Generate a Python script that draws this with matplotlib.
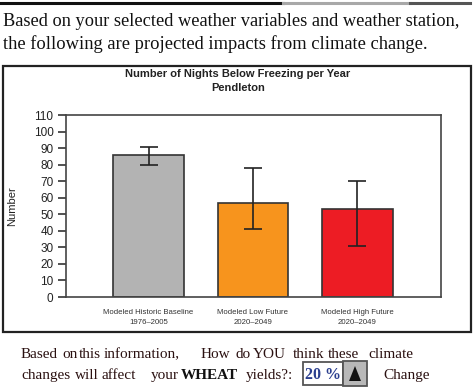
import matplotlib
matplotlib.use("Agg")
import matplotlib.pyplot as plt
from matplotlib.patches import Rectangle, Polygon
from matplotlib.lines import Line2D

categories = ["Modeled Historic Baseline\n1976\u20132005",
              "Modeled Low Future\n2020\u20132049",
              "Modeled High Future\n2020\u20132049"]
values = [86, 57, 53]
err_low = [80, 41, 31]
err_high = [90.5, 78, 70]
colors = ["#b3b3b3", "#f7941d", "#ed1c24"]
yticks = list(range(0, 111, 10))

line1_words = ["Based", "on", "this", "information,", "How", "do", "YOU", "think", "these", "climate"]
line1_x = [21, 62, 79, 104, 201, 235, 253, 293, 328, 368]
line2_words = ["changes", "will", "affect", "your", "WHEAT", "yields?:"]
line2_x = [21, 75, 102, 151, 181, 246]

W, H = 474, 387
fig = plt.figure(figsize=(W / 100, H / 100), dpi=100)

def fx(px):
    return px / W

def fy(py):
    return 1 - py / H

# top rule
fig.add_artist(Line2D([fx(0), fx(283)], [fy(2.5), fy(2.5)], color="#111111", lw=2.2))
fig.add_artist(Line2D([fx(283), fx(410)], [fy(2.5), fy(2.5)], color="#a8a8a8", lw=2.2))
fig.add_artist(Line2D([fx(410), fx(470)], [fy(2.5), fy(2.5)], color="#555555", lw=2.2))

serif = ["Liberation Serif", "DejaVu Serif"]
fig.text(fx(3), fy(22), "Based on your selected weather variables and weather station,",
         fontsize=13.2, family=serif, ha="left", va="center", color="#111111")
fig.text(fx(3), fy(44), "the following are projected impacts from climate change.",
         fontsize=13.3, family=serif, ha="left", va="center", color="#111111")

# outer chart frame
fig.add_artist(Rectangle((fx(3), fy(332)), fx(468), (329 - 63) / H, fill=False,
                         edgecolor="#222222", lw=1.6, transform=fig.transFigure))

sans = ["Liberation Sans", "DejaVu Sans"]
fig.text(fx(238), fy(74), "Number of Nights Below Freezing per Year", fontsize=8,
         weight="bold", family=sans, ha="center", va="center", color="#222222")
fig.text(fx(238), fy(88), "Pendleton", fontsize=8, weight="bold", family=sans,
         ha="center", va="center", color="#222222")

ax = fig.add_axes([fx(66), fy(297), fx(441 - 66), (297 - 115) / H])
x = list(range(len(values)))
yerr = [[v - lo for v, lo in zip(values, err_low)], [hi - v for v, hi in zip(values, err_high)]]
ax.bar(x, values, width=0.675, color=colors, edgecolor="#333333", linewidth=1.2, zorder=2)
ax.errorbar(x, values, yerr=yerr, fmt="none", ecolor="#222222", elinewidth=1.2,
            capsize=6.5, capthick=1.2, zorder=3)
ax.set_xlim(-0.79, 2.80)
ax.set_ylim(0, 110)
ax.set_yticks(yticks)
ax.set_yticklabels([str(t) for t in yticks], fontsize=8.5, family=sans, color="#222222")
ax.set_xticks(x)
ax.set_xticklabels(categories, fontsize=5.6, family=sans, color="#333333", linespacing=1.5)
ax.tick_params(axis="x", length=0, pad=9)
ax.tick_params(axis="y", length=6, width=1.2, color="#333333", pad=3)
for s in ax.spines.values():
    s.set_color("#444444")
    s.set_linewidth(1.2)
ax.set_ylabel("Number", fontsize=8, family=sans, color="#222222", labelpad=12)

# bottom question
for w, px in zip(line1_words, line1_x):
    fig.text(fx(px), fy(358), w, fontsize=11, family=serif, ha="left", va="baseline",
             color="#2a1010")
for w, px in zip(line2_words, line2_x):
    fig.text(fx(px), fy(379), w, fontsize=11, family=serif, ha="left", va="baseline",
             color="#111111" if w == "WHEAT" else "#2a1010",
             weight="bold" if w == "WHEAT" else "normal")
fig.add_artist(Rectangle((fx(303), fy(385)), fx(40), 23 / H, facecolor="white",
                         edgecolor="#555555", lw=1.3, transform=fig.transFigure))
fig.text(fx(323), fy(379), "20 %", fontsize=11.5, family=serif, weight="bold",
         ha="center", va="baseline", color="#2b3f8f")
fig.add_artist(Rectangle((fx(343), fy(386)), fx(24), 25 / H, facecolor="#b8b8b8",
                         edgecolor="#555555", lw=1.3, transform=fig.transFigure))
fig.add_artist(Polygon([[fx(349), fy(381)], [fx(361), fy(381)], [fx(355), fy(366)]],
                       closed=True, facecolor="#111111", edgecolor="none",
                       transform=fig.transFigure))
fig.text(fx(383), fy(379), "Change", fontsize=11, family=serif,
         ha="left", va="baseline", color="#2a1010")

fig.savefig("out.png", dpi=100)
